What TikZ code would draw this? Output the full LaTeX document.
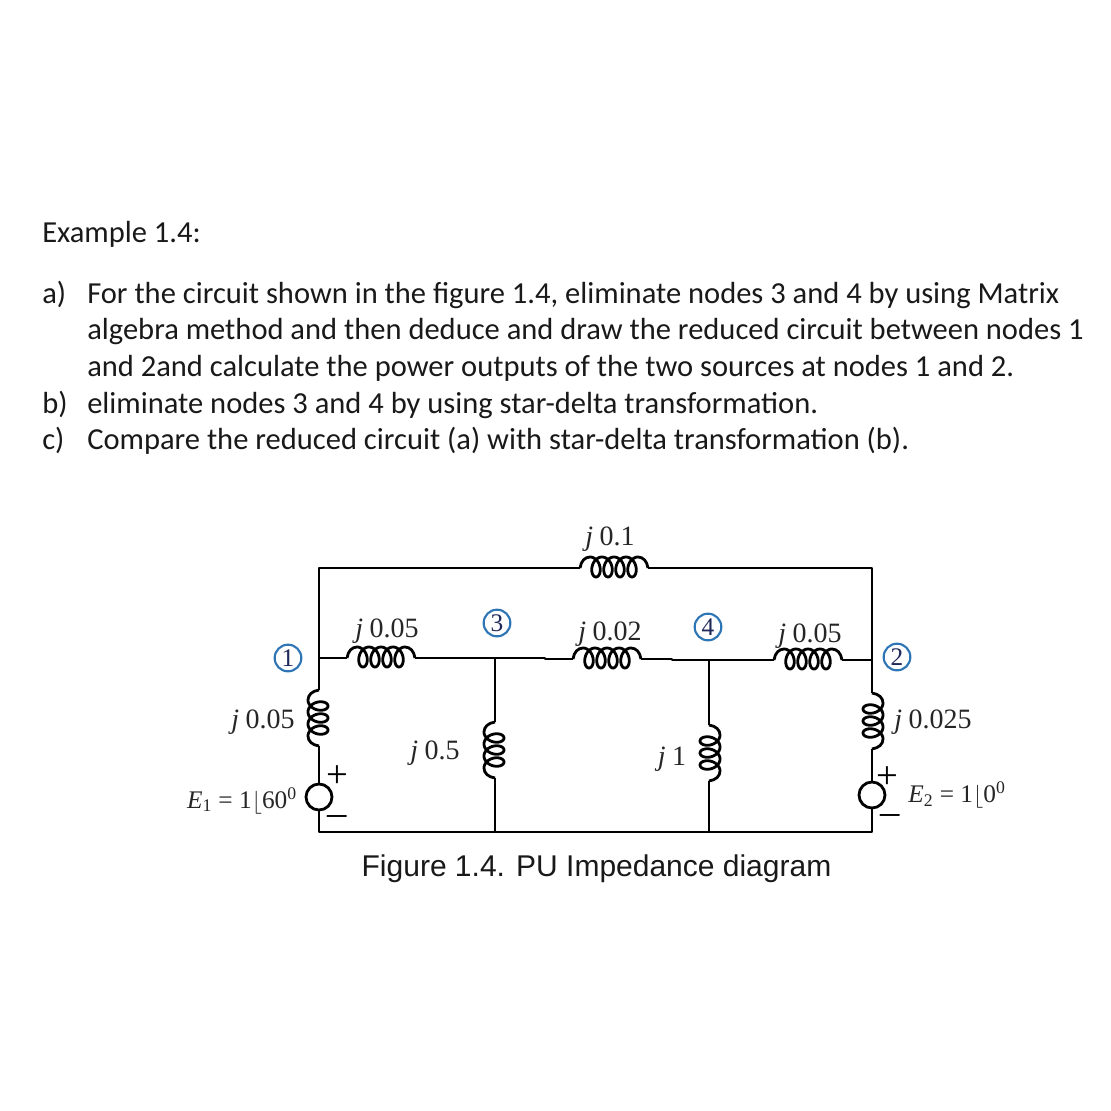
\documentclass[tikz,border=0pt]{standalone}
\usepackage{fontspec}
\setmainfont{Carlito}
\newfontfamily\cam{Liberation Serif}
\newfontfamily\capfont{Liberation Sans}
\usetikzlibrary{calc}
\definecolor{nodeblue}{HTML}{2E75B6}
\definecolor{nodeink}{HTML}{1F2A5A}
\tikzset{
  wire/.style={line width=2.1pt,black,line join=round},
  body/.style={anchor=base west,inner sep=0pt,font=\fontsize{22.9}{26}\selectfont,text=black!90},
  val/.style={inner sep=0pt,font=\cam\fontsize{21}{24}\selectfont,text=black!85},
  eqn/.style={inner sep=0pt,font=\cam\fontsize{19}{22}\selectfont,text=black!85},
  sign/.style={inner sep=0pt,font=\cam\fontsize{29}{29}\selectfont},
  busnode/.style={circle,draw=nodeblue,line width=1.6pt,minimum size=20pt,inner sep=0pt,text=nodeink,font=\cam\fontsize{19}{22}\selectfont},
  source/.style={circle,draw=black,line width=2.1pt,minimum size=19.5pt,inner sep=0pt},
  pics/coil/.style={code={
    \draw[wire] (0,0) .. controls (1,-7) and (5,-11) .. (10,-11)
      -- plot[domain=180:{180+360*#1},samples={40*#1},variable=\t]
         ({10+(\t-180)/30-7*sin(\t)},{-1+10*cos(\t)})
      .. controls ({15+12*#1},-11) and ({19+12*#1},-7) .. ({20+12*#1},0);
    \coordinate (-in) at (0,0);
    \coordinate (-out) at ({20+12*#1},0);
  }}
}
\newcommand{\jv}[1]{{\itshape j}\hspace{5pt}#1}
\begin{document}
\begin{tikzpicture}[x=0.75pt,y=-0.75pt]
\useasboundingbox[fill=white] (0,0) rectangle (1111,1111);
% text
\node[body] (t0) at (42,242) {Example 1.4:};
\node[body] (a)  at (42,303) {a)};
\node[body] (a1) at (87,303) {For the circuit shown in the figure 1.4, eliminate nodes 3 and 4 by using Matrix};
\node[body] (a2) at (87,339) {algebra method and then deduce and draw the reduced circuit between nodes 1};
\node[body] (a3) at (87,376) {and 2and calculate the power outputs of the two sources at nodes 1 and 2.};
\node[body] (b)  at (42,413) {b)};
\node[body] (b1) at (87,413) {eliminate nodes 3 and 4 by using star-delta transformation.};
\node[body] (c)  at (42,449) {c)};
\node[body] (c1) at (87,449) {Compare the reduced circuit (a) with star-delta transformation (b).};
% junctions
\coordinate (tl) at (319,568);
\coordinate (tr) at (872,568);
\coordinate (n1) at (319,658);
\coordinate (n3) at (495,658);
\coordinate (m1) at (545,658);
\coordinate (m2) at (545,659);
\coordinate (m3) at (672,659);
\coordinate (m4) at (672,660);
\coordinate (n4) at (709,660);
\coordinate (n2) at (872,660);
\coordinate (bl) at (320,832);
\coordinate (b3) at (495,832);
\coordinate (b4) at (709,832);
\coordinate (br) at (872,832);
% coils
\pic (ctop) at (580,568) {coil=4};
\pic (c13) at (347,658) {coil=4};
\pic (c34) at (573,659) {coil=4};
\pic (c42) at (774,660) {coil=4};
\pic[rotate=-90,yscale=-1] (cv1) at (319,690) {coil=3};
\pic[rotate=-90,yscale=-1] (cv3) at (495,722) {coil=3};
\pic[rotate=-90] (cv4) at (709,725) {coil=3};
\pic[rotate=-90] (cv2) at (872,693) {coil=3};
% sources
\node[source] (E1) at (319,797) {};
\node[source] (E2) at (872,795) {};
% wires
\draw[wire] (ctop-in) -- (ctop-in -| tl) -- (n1) -- (cv1-in);
\draw[wire] (ctop-out) -- (ctop-out -| tr) -- (n2) -- (cv2-in);
\draw[wire] (n1) -- (c13-in);
\draw[wire] (c13-out) -- (n3) -- (m1) -- (m2) -- (c34-in);
\draw[wire] (c34-out) -- (m3) -- (m4) -- (n4) -- (c42-in);
\draw[wire] (c42-out) -- (n2);
\draw[wire] (n3) -- (cv3-in);
\draw[wire] (cv3-out) -- (b3);
\draw[wire] (n4) -- (cv4-in);
\draw[wire] (cv4-out) -- (b4);
\draw[wire] (cv1-out) -- (E1.north);
\draw[wire] (cv2-out) -- (E2.north);
\draw[wire] (E1.south) -- (E1.south |- bl) -- (br) -- (E2.south);
% bus labels
\node[busnode] (N1) at (288,658) {1};
\node[busnode] (N3) at (497,623) {3};
\node[busnode] (N4) at (708,627) {4};
\node[busnode] (N2) at (897,657) {2};
% values
\node[val] (v1) at (610,539) {\jv{0.1}};
\node[val] (v2) at (387,631) {\jv{0.05}};
\node[val] (v3) at (610,634) {\jv{0.02}};
\node[val] (v4) at (810,636) {\jv{0.05}};
\node[val] (v5) at (263,722) {\jv{0.05}};
\node[val] (v6) at (933,722) {\jv{0.025}};
\node[val] (v7) at (435,753) {\jv{0.5}};
\node[val] (v8) at (672,759) {\jv{1}};
\node[eqn] (e1) at (242,801) {{\itshape E}\textsubscript{1} = 1$\lfloor$60\textsuperscript{0}};
\node[eqn] (e2) at (957,795) {{\itshape E}\textsubscript{2} = 1$\lfloor$0\textsuperscript{0}};
\node[sign] (p1) at (337,777) {+};
\node[sign] (m1s) at (337,821) {\textendash};
\node[sign] (p2) at (887,778) {+};
\node[sign] (m2s) at (890,820) {\textendash};
\node[inner sep=0pt,font=\capfont\fontsize{22.5}{26}\selectfont,text=black!90] (cap) at (596.5,869) {Figure 1.4. PU Impedance diagram};
\end{tikzpicture}
\end{document}
